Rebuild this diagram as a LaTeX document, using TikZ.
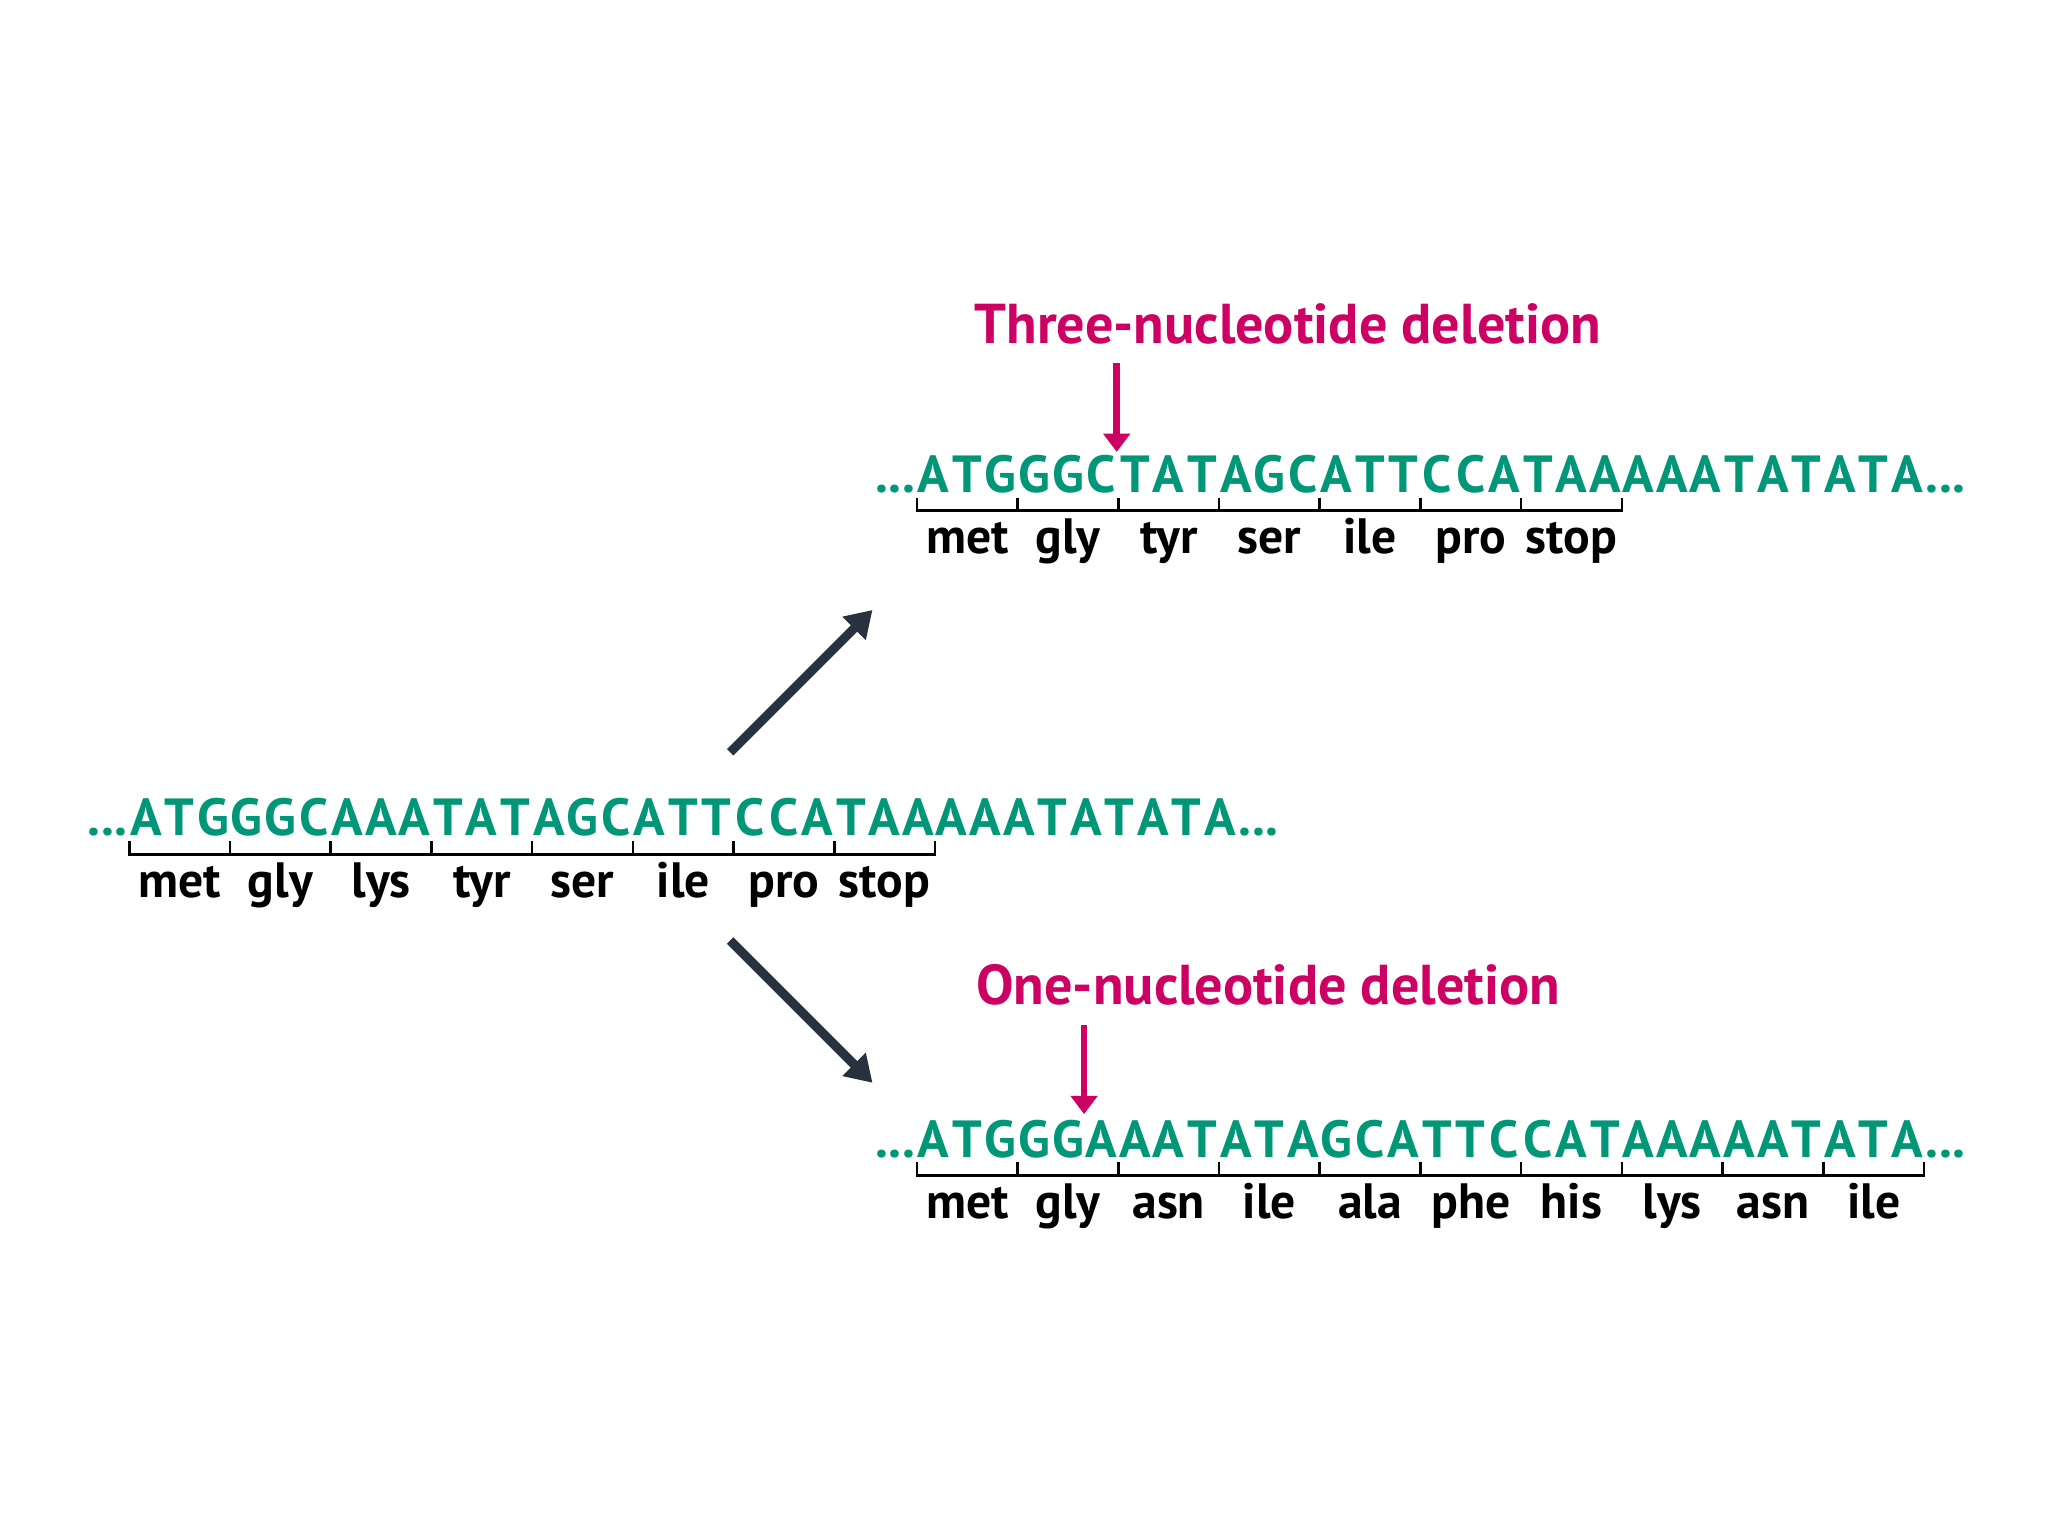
\documentclass[tikz,border=0pt]{standalone}
\usepackage{fontspec}
\setmainfont{PT Sans}
\usepackage{tikz}
\usetikzlibrary{arrows.meta}
\definecolor{seqgreen}{RGB}{0,150,120}
\definecolor{delred}{RGB}{205,0,100}
\definecolor{darkarrow}{RGB}{40,50,62}
\tikzset{
  base/.style = {text = seqgreen, font = \fontsize{40}{40}\selectfont\bfseries, inner sep = 0pt, anchor = base},
  amino/.style = {font = \fontsize{38}{38}\selectfont\bfseries, inner sep = 0pt, anchor = base},
  title/.style = {text = delred, font = \fontsize{43}{43}\selectfont\bfseries, inner sep = 0pt},
  codon/.style = {line width = 2pt},
  mutarrow/.style = {delred, line width = 5pt, -{Triangle[length = 14pt, width = 20pt]}},
  steparrow/.style = {darkarrow, line width = 7pt, -{Triangle[length = 20pt, width = 24pt]}}
}
\newcommand{\seqrow}[6]{% prefix, start x, y, number of bases, bases, amino acids
  \foreach \b [count = \i] in {#5}
    \node[base] (#1\i) at ({#2 + 25.7*\i - 12.85}, #3+14) {\b};
  \node[base, anchor = base east] (#1dl) at ({#2 - 1}, #3+14) {...};
  \node[base, anchor = base west] (#1dr) at ({#2 + 25.7*#4 + 1}, #3+14) {...};
  \foreach \a [count = \j] in {#6} {
    \draw[codon] ({#2 + 77.1*(\j-1)}, #3+18) -- ({#2 + 77.1*(\j-1)}, #3+28)
      -- ({#2 + 77.1*\j}, #3+28) -- ({#2 + 77.1*\j}, #3+18);
    \node[amino] (#1aa\j) at ({#2 + 77.1*\j - 38.5}, #3+61) {\a};
  }
}
\begin{document}
\begin{tikzpicture}[x = 1pt, y = -1pt]
  \useasboundingbox[fill = white] (0,0) rectangle (1568,1176);
  % wild type
  \seqrow{w}{99}{626}{33}{A,T,G,G,G,C,A,A,A,T,A,T,A,G,C,A,T,T,C,C,A,T,A,A,A,A,A,T,A,T,A,T,A}{met,gly,lys,tyr,ser,ile,pro,stop}
  % three-nucleotide deletion
  \seqrow{t}{702}{363}{30}{A,T,G,G,G,C,T,A,T,A,G,C,A,T,T,C,C,A,T,A,A,A,A,A,T,A,T,A,T,A}{met,gly,tyr,ser,ile,pro,stop}
  % one-nucleotide deletion
  \seqrow{o}{702}{872}{30}{A,T,G,G,G,A,A,A,T,A,T,A,G,C,A,T,T,C,C,A,T,A,A,A,A,A,T,A,T,A}{met,gly,asn,ile,ala,phe,his,lys,asn,ile}
  \node[title] (three) at (986,248) {Three-nucleotide deletion};
  \node[title] (one) at (971,754) {One-nucleotide deletion};
  \coordinate (tcut) at (855,346);
  \coordinate (ocut) at (830,853);
  \draw[mutarrow] (855,278) -- (tcut);
  \draw[mutarrow] (830,785) -- (ocut);
  \coordinate (up0) at (559,576);
  \coordinate (up1) at (668,467);
  \coordinate (dn0) at (559,720);
  \coordinate (dn1) at (668,829);
  \draw[steparrow] (up0) -- (up1);
  \draw[steparrow] (dn0) -- (dn1);
\end{tikzpicture}
\end{document}
